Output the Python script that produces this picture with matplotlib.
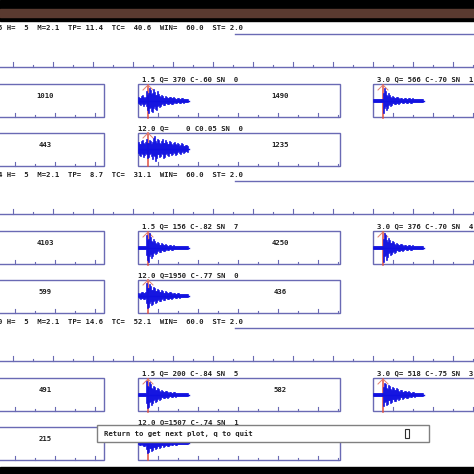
import matplotlib
matplotlib.use("Agg")
import matplotlib.pyplot as plt
from matplotlib.patches import Rectangle

# Datos de la pantalla (tres estaciones)
cabeceras = [
    "5 H=  5  M=2.1  TP= 11.4  TC=  40.6  WIN=  60.0  ST= 2.0",
    "4 H=  5  M=2.1  TP=  8.7  TC=  31.1  WIN=  60.0  ST= 2.0",
    "0 H=  5  M=2.1  TP= 14.6  TC=  52.1  WIN=  60.0  ST= 2.0",
]
num_a1 = ["1010", "4103", "491"]
num_b1 = ["1490", "4250", "582"]
num_a2 = ["443", "599", "215"]
num_b2 = ["1235", "436", ""]
tit_b1 = ["1.5 Q= 370 C-.60 SN  0", "1.5 Q= 156 C-.82 SN  7", "1.5 Q= 200 C-.84 SN  5"]
tit_c1 = ["3.0 Q= 566 C-.70 SN  1", "3.0 Q= 376 C-.70 SN  4", "3.0 Q= 518 C-.75 SN  3"]
tit_b2 = ["12.0 Q=    0 C0.05 SN  0", "12.0 Q=1950 C-.77 SN  0", "12.0 Q=1507 C-.74 SN  1"]

# Envolventes aproximadas de las trazas (amplitud en px)
env_b1 = [
    [3, 4, 5, 3, 9, 12, 10, 11, 8, 9, 6, 5, 4, 4, 3, 3, 3, 3, 2, 2, 2, 2, 2, 1, 1],
    [1, 1, 1, 1, 12, 14, 10, 8, 6, 5, 4, 4, 3, 3, 2, 2, 2, 2, 1, 1, 1, 1, 1, 1, 1],
    [1, 1, 1, 1, 13, 12, 10, 8, 7, 6, 5, 4, 3, 3, 3, 2, 2, 2, 2, 1, 1, 1, 1, 1, 1],
]
env_c1 = [
    [1, 1, 1, 1, 1, 12, 9, 7, 5, 4, 3, 3, 3, 2, 2, 2, 2, 2, 2, 2, 1, 1, 1, 1, 1],
    [1, 1, 1, 1, 1, 14, 12, 9, 7, 6, 5, 4, 3, 3, 3, 2, 2, 2, 2, 2, 1, 1, 1, 1, 1],
    [1, 1, 1, 1, 1, 11, 10, 9, 8, 7, 6, 6, 5, 4, 4, 3, 3, 3, 2, 2, 2, 1, 1, 1, 1],
]
env_b2 = [
    [6, 7, 8, 6, 9, 8, 7, 10, 12, 9, 8, 7, 9, 8, 6, 7, 6, 5, 6, 5, 4, 5, 4, 3, 3],
    [2, 3, 3, 3, 12, 11, 9, 8, 7, 6, 5, 5, 4, 4, 3, 3, 3, 2, 2, 2, 2, 1, 1, 1, 1],
    [2, 2, 3, 3, 10, 9, 8, 7, 6, 5, 5, 4, 4, 3, 3, 3, 2, 2, 2, 2, 1, 1, 1, 1, 1],
]

AZUL = "#6a6ab4"
FUENTE = dict(family="DejaVu Sans Mono", fontweight="bold", fontsize=5.2, color="#202020")

fig = plt.figure(figsize=(4.74, 4.74), dpi=100)
ax = fig.add_axes([0, 0, 1, 1])
ax.set_xlim(0, 474)
ax.set_ylim(474, 0)
ax.axis("off")

# Marco superior e inferior
ax.add_patch(Rectangle((0, 0), 474, 21, color="black"))
ax.add_patch(Rectangle((0, 9), 474, 8, color="#5a3a30"))
ax.add_patch(Rectangle((0, 467), 474, 7, color="black"))


def caja(x0, y0, w, h):
    ax.add_patch(Rectangle((x0, y0), w, h, fill=False, ec=AZUL, lw=1))
    for i, xt in enumerate(range(int(x0) + 20, int(x0 + w), 20)):
        largo = 4 if i % 2 == 0 else 2
        ax.plot([xt, xt], [y0 + h, y0 + h - largo], color=AZUL, lw=0.8)


def traza(x0, yc, env, xpico):
    ax.plot([xpico, xpico], [yc - 16, yc + 17], color="#e05040", lw=1.1, zorder=1)
    ax.plot([xpico - 5, xpico, xpico + 5], [yc - 11, yc - 16, yc - 11], color="#e08070", lw=0.7)
    for i, a in enumerate(env):
        for k in range(2):
            x = x0 + i * 2 + k
            s = 1 if (i + k) % 2 == 0 else -1
            ax.plot([x, x], [yc + s * 0.6 * a, yc - s * a], color="#1010e0", lw=1.2, zorder=2)
    ax.plot([x0, x0 + len(env) * 2], [yc, yc], color="#1010e0", lw=1.0, zorder=2)


for g in range(3):
    dy = g * 147
    # cabecera
    ax.text(-2, 31 + dy, cabeceras[g], ha="left", va="bottom", **FUENTE)
    ax.plot([235, 474], [34 + dy, 34 + dy], color=AZUL, lw=1)
    # eje de tiempo
    ya = 67 + dy
    ax.plot([0, 474], [ya, ya], color=AZUL, lw=1)
    for i, xt in enumerate(range(13, 474, 20)):
        largo = 5 if i % 2 == 0 else 2
        ax.plot([xt, xt], [ya, ya - largo], color=AZUL, lw=0.8)
    # fila 1
    caja(-5, 84 + dy, 109, 33)
    caja(138, 84 + dy, 202, 33)
    caja(373, 84 + dy, 110, 33)
    ax.text(45, 96 + dy, num_a1[g], ha="center", va="center", **FUENTE)
    ax.text(280, 96 + dy, num_b1[g], ha="center", va="center", **FUENTE)
    ax.text(142, 82 + dy, tit_b1[g], ha="left", va="bottom", **FUENTE)
    ax.text(377, 82 + dy, tit_c1[g], ha="left", va="bottom", **FUENTE)
    traza(139, 101 + dy, env_b1[g], 148)
    traza(374, 101 + dy, env_c1[g], 383)
    # fila 2
    caja(-5, 133 + dy, 109, 33)
    caja(138, 133 + dy, 202, 33)
    ax.text(45, 145 + dy, num_a2[g], ha="center", va="center", **FUENTE)
    ax.text(280, 145 + dy, num_b2[g], ha="center", va="center", **FUENTE)
    ax.text(138, 131 + dy, tit_b2[g], ha="left", va="bottom", **FUENTE)
    traza(139, 149 + dy, env_b2[g], 148)

# Diálogo
ax.add_patch(Rectangle((97, 425), 332, 17, fc="white", ec="#808080", lw=1, zorder=5))
ax.text(104, 434, "Return to get next plot, q to quit", ha="left", va="center", zorder=6, **FUENTE)
ax.add_patch(Rectangle((405, 429), 4, 9, fill=False, ec="#303030", lw=0.8, zorder=6))

fig.savefig("out.png", dpi=100)
